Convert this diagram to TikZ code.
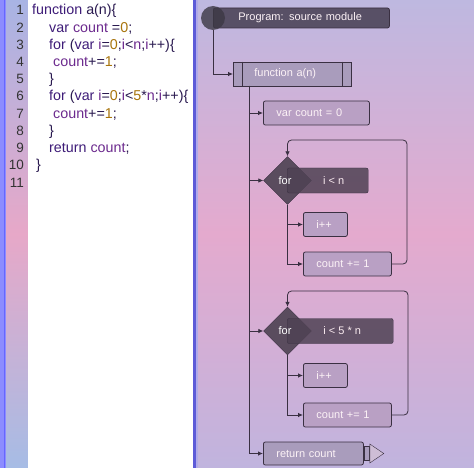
\documentclass[tikz,border=0pt]{standalone}
\usepackage{fontspec}
\setmainfont{Liberation Sans}
\usepackage{xcolor}
\usetikzlibrary{shapes.geometric, arrows.meta, calc}
\definecolor{kwc}{HTML}{3E1C78}
\definecolor{idc}{HTML}{6C2A8E}
\definecolor{numc}{HTML}{A8740C}
\definecolor{txc}{HTML}{2A1A50}
\definecolor{edgec}{HTML}{3A3042}
\definecolor{darkbox}{HTML}{585066}
\definecolor{fnbox}{HTML}{A99CBC}
\definecolor{lightbox}{HTML}{B9A0C4}
\definecolor{condbox}{HTML}{4F4254}
\definecolor{diabox}{HTML}{5A4C5E}
\definecolor{startc}{HTML}{3C3844}
\definecolor{guttop}{RGB}{168,180,228}
\definecolor{gutmid}{RGB}{231,168,200}
\definecolor{gutbot}{RGB}{166,188,229}
\definecolor{edgeblue}{RGB}{93,91,216}
\definecolor{edgepale}{RGB}{176,170,232}
\definecolor{bgtop}{RGB}{190,184,224}
\definecolor{bgmid}{RGB}{228,170,206}
\definecolor{bgbot}{RGB}{192,180,222}
\newcommand{\ckw}[1]{\textcolor{kwc}{#1}}
\newcommand{\cid}[1]{\textcolor{idc}{#1}}
\newcommand{\cnum}[1]{\textcolor{numc}{#1}}
\tikzset{
  lnum/.style={anchor=base east, font=\fontsize{13.5}{15}\selectfont, text=black!80, inner sep=0pt},
  code/.style={anchor=base west, font=\fontsize{14.3}{16}\selectfont, text=txc, inner sep=0pt},
  box/.style={rectangle, rounded corners=2pt, draw=edgec, thick, fill=lightbox,
              anchor=west, minimum height=24pt, inner xsep=13pt, inner ysep=0pt,
              text width=#1, align=left, text=white!95!purple,
              font=\fontsize{11}{13}\selectfont},
  cbox/.style={rectangle, rounded corners=2pt, draw=edgec, fill=condbox,
               fill opacity=0.85, text opacity=1, anchor=west,
               minimum height=25pt, minimum width=#1, text=white!92!purple,
               font=\fontsize{11}{13}\selectfont},
  dia/.style={diamond, draw=edgec, fill=diabox, minimum width=48pt,
              minimum height=48pt, inner sep=0pt},
  arr/.style={-{Latex[length=5pt,width=4.5pt]}, edgec, thick},
  wire/.style={edgec, thick},
}
\begin{document}
\begin{tikzpicture}[x=1pt, y=-1pt]
  \useasboundingbox (0,0) rectangle (474,468);
  % editor panel
  \fill[blue!45!white] (0,0) rectangle (6,468);
  \draw[line width=1.5pt, blue!60!white] (4.5,0) -- (4.5,468);
  \shade[top color=guttop, bottom color=gutbot, middle color=gutmid] (6,0) rectangle (28,468);
  \fill[white] (28,0) rectangle (193,468);
  \fill[edgeblue] (193,0) rectangle (196,468);
  \fill[edgepale] (196,0) rectangle (198,468);
  % diagram background
  \shade[top color=bgtop, bottom color=bgbot, middle color=bgmid] (198,0) rectangle (474,468);

  % line numbers and code
  \foreach \k in {1,...,11}
    \node[lnum] (ln\k) at (24, {15+17.2*(\k-1)}) {\k};
  \node[code] (c1)  at (32, 15.0)  {\ckw{function} a(n)\{};
  \node[code] (c2)  at (49, 32.2)  {\ckw{var} \cid{count} =\cnum{0};};
  \node[code] (c3)  at (49, 49.4)  {\ckw{for} (\ckw{var} \cid{i}=\cnum{0};\cid{i}<\cid{n};\cid{i}++)\{};
  \node[code] (c4)  at (53, 66.6)  {\cid{count}+=\cnum{1};};
  \node[code] (c5)  at (49, 83.8)  {\}};
  \node[code] (c6)  at (49, 101.0) {\ckw{for} (\ckw{var} \cid{i}=\cnum{0};\cid{i}<\cnum{5}*\cid{n};\cid{i}++)\{};
  \node[code] (c7)  at (53, 118.2) {\cid{count}+=\cnum{1};};
  \node[code] (c8)  at (49, 135.4) {\}};
  \node[code] (c9)  at (49, 152.6) {\ckw{return} \cid{count};};
  \node[code] (c10) at (36, 169.8) {\}};

  % flow chart
  \node[box=152pt, fill=darkbox, minimum height=20pt, inner xsep=12pt] (prog) at (213,18)
    {\hspace*{13pt}Program: source module};
  \node[circle, fill=startc, fill opacity=0.8, minimum size=24pt, inner sep=0pt] (start) at (213,18) {};
  \node[box=76pt, fill=fnbox, inner xsep=21pt, rounded corners=0pt] (fn) at (233,74) {function a(n)};
  \draw[edgec, thick] ([xshift=9pt]fn.north west) -- ([xshift=9pt]fn.south west);
  \draw[edgec, thick] ([xshift=-9pt]fn.north east) -- ([xshift=-9pt]fn.south east);
  \node[box=80pt] (var) at (263,113) {var count = 0};

  \node[dia] (for1) at (287.5,180.5) {};
  \node[cbox=81pt] (cnd1) at (287,180.5) {\hspace*{12pt}i < n};
  \node[box=18pt] (inc1) at (303,224.5) {i++};
  \node[box=62pt] (add1) at (303,264) {count += 1};

  \node[dia] (for2) at (287.5,331) {};
  \node[cbox=106pt] (cnd2) at (287,331) {\hspace*{4pt}i < 5 * n};
  \node[box=18pt] (inc2) at (303,375.5) {i++};
  \node[box=62pt] (add2) at (303,415) {count += 1};

  \node[box=74pt, fill=fnbox, minimum height=23pt] (ret) at (263,453.5) {return count};
  \node[rectangle, draw=edgec, thick, fill=fnbox, minimum width=5pt, minimum height=14pt,
        inner sep=0pt, anchor=west] (rbar) at (ret.east) {};
  \node[isosceles triangle, draw=edgec, fill=lightbox!70!white, minimum height=14pt,
        minimum width=19pt, inner sep=0pt, isosceles triangle stretches, anchor=west] (rend) at (rbar.east) {};

  \node[font=\fontsize{11}{13}\selectfont, text=white] (for1t) at (285,180.5) {for};
  \node[font=\fontsize{11}{13}\selectfont, text=white] (for2t) at (285,331) {for};

  % connectors
  \coordinate (trunk) at (249,86);
  \coordinate (loop1) at (407,140);
  \coordinate (loop2) at (408,291);
  \draw[arr] (start.south) |- (fn.west);
  \foreach \b in {var,for1,for2,ret}
    \draw[arr] (trunk) |- (\b.west);
  \foreach \a/\b in {for1/inc1,for1/add1,for2/inc2,for2/add2}
    \draw[arr] (\a.south) |- (\b.west);
  \draw[arr, rounded corners=4pt] (add1.east) -| (loop1) -| (for1.north);
  \draw[arr, rounded corners=4pt] (add2.east) -| (loop2) -| (for2.north);
\end{tikzpicture}
\end{document}
